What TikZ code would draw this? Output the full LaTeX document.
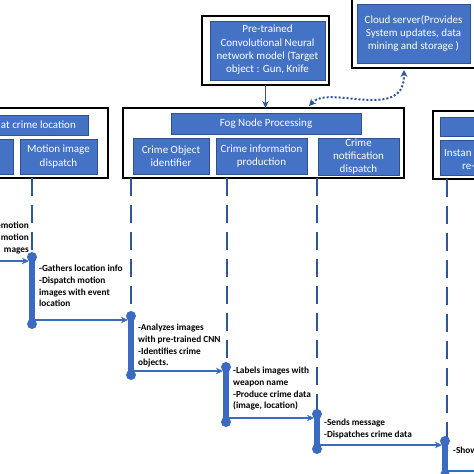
\documentclass[tikz,border=0pt]{standalone}
\usepackage{fontspec}
\setmainfont{Carlito}
\usetikzlibrary{arrows.meta}
\definecolor{boxblue}{HTML}{4472C4}
\definecolor{boxedge}{HTML}{2F528F}
\definecolor{lineblue}{HTML}{2F5597}
\definecolor{barblue}{HTML}{3A6BC0}
\tikzset{
  frame/.style={draw=black, line width=1.3pt, inner sep=0, outer sep=0, anchor=north west},
  bbox/.style={fill=boxblue, draw=boxedge, line width=0.5pt, inner sep=0, outer sep=0, anchor=north west},
  btext/.style={text=white, font=\fontsize{11}{13.4}\selectfont, align=center, inner sep=0},
  note/.style={font=\bfseries\fontsize{9.3}{11.7}\selectfont, align=left, inner sep=0, text=black},
  life/.style={draw=lineblue, line width=2.4pt, dash pattern=on 18pt off 9pt},
  actbar/.style={draw=barblue, line width=6.5pt, line cap=round},
  msg/.style={draw=barblue, line width=1.6pt, -{Stealth[length=7pt,width=6.5pt]}},
  plainmsg/.style={draw=barblue, line width=1.6pt},
  feed/.style={draw=lineblue, line width=1.8pt, -{Stealth[length=7pt,width=6.5pt]}},
  sync/.style={draw=lineblue, line width=2pt, dash pattern=on 2pt off 2pt,
    {Stealth[length=7pt,width=7pt]}-{Stealth[length=7pt,width=7pt]}},
}
\begin{document}
\begin{tikzpicture}[x=1pt,y=-1pt]
\useasboundingbox (0,0) rectangle (474,474);
\fill[white] (0,0) rectangle (474,474);
\clip (0,0) rectangle (474,474);

% ---------- left group (sensor side) ----------
\node[frame, minimum width=118, minimum height=70] (lframe) at (-10,108) {};
\node[bbox, minimum width=118, minimum height=20] (ltitle) at (-30,115) {};
\node[btext, anchor=east] (ltitletxt) at (76,125) {at crime location};
\node[bbox, minimum width=43, minimum height=35] (lsub) at (-30,139) {};
\node[bbox, minimum width=77, minimum height=35] (motion) at (20,139) {};
\node[btext] (motiontxt) at (motion.center) {Motion image\\dispatch};

% ---------- CNN box ----------
\node[frame, minimum width=127, minimum height=69] (cnnframe) at (202,16) {};
\node[bbox, minimum width=115, minimum height=59] (cnn) at (210,21) {};
\node[btext] (cnntxt) at ([yshift=0.5]cnn.center) {Pre-trained\\Convolutional Neural\\network model (Target\\object : Gun, Knife};

% ---------- cloud box ----------
\node[frame, minimum width=140, minimum height=72] (cloudframe) at (352,-4) {};
\node[bbox, minimum width=113, minimum height=59] (cloud) at (357,4) {};
\node[btext] (cloudtxt) at (cloud.center) {Cloud server(Provides\\System updates, data\\mining and storage )};

% ---------- fog group ----------
\node[frame, minimum width=281, minimum height=70] (fogframe) at (123,108) {};
\node[bbox, minimum width=190, minimum height=21] (fogtitle) at (171,113) {};
\node[btext] (fogtxt) at (fogtitle.center) {Fog Node Processing};
\node[bbox, minimum width=76, minimum height=36] (cobj) at (133,138) {};
\node[btext] (cobjtxt) at (cobj.center) {Crime Object\\identifier};
\node[bbox, minimum width=91, minimum height=36] (cinfo) at (216,138) {};
\node[btext] (cinfotxt) at (cinfo.center) {Crime information\\production};
\node[bbox, minimum width=81, minimum height=37] (cnot) at (318,138) {};
\node[btext] (cnottxt) at (cnot.center) {Crime\\notification\\dispatch};

% ---------- right group ----------
\node[frame, minimum width=60, minimum height=68] (rframe) at (433,111) {};
\node[bbox, minimum width=50, minimum height=19] (rtitle) at (440,117) {};
\node[bbox, minimum width=50, minimum height=35] (rsub) at (440,140) {};
\node[btext, anchor=west] (rsubtxt1) at (444,153) {Instan};
\node[btext, anchor=west] (rsubtxt2) at (462,166.5) {re-};

% ---------- top connectors ----------
\draw[feed] (cnnframe.south) -- (cnnframe.south |- fogframe.north);
\coordinate (s1) at (309,106);
\coordinate (s2) at (404,70);
\draw[sync] (s1) .. controls (322,92) and (350,100) .. (372,100)
                 .. controls (396,100) and (404,92) .. (s2);

% ---------- activation bar end points ----------
\coordinate (in0) at (0,261);
\coordinate (b1t) at (32,261);  \coordinate (b1b) at (32,320);
\coordinate (b2t) at (131,320); \coordinate (b2b) at (131,371);
\coordinate (b3t) at (226,371); \coordinate (b3b) at (226,418);
\coordinate (b4t) at (317,418); \coordinate (b4b) at (317,445);
\coordinate (b5t) at (445,445); \coordinate (b5b) at (445,471);
\coordinate (out0) at (480,471);

% ---------- lifelines ----------
\draw[life] (b1t |- lframe.south) -- (b1t);
\draw[life] (b2t |- fogframe.south) -- (b2t);
\draw[life] ([xshift=1]b3t |- fogframe.south) -- ([xshift=1]b3t);
\draw[life] (b4t |- fogframe.south) -- (b4t);
\draw[life] ([xshift=2]b5t |- rframe.south) -- ([xshift=2]b5t);

% ---------- messages ----------
\draw[msg, shorten >=3pt] (in0) -- (b1t);
\draw[msg, shorten >=3pt] (b1b) -- (b2t);
\draw[msg, shorten >=3pt] (b2b) -- (b3t);
\draw[msg, shorten >=3pt] (b3b) -- (b4t);
\draw[msg, shorten >=3pt] (b4b) -- (b5t);
\draw[plainmsg] (b5b) -- (out0);

% ---------- activation bars ----------
\foreach \t/\b in {b1t/b1b, b2t/b2b, b3t/b3b, b4t/b4b, b5t/b5b}{
  \draw[actbar] ([yshift=3]\t) -- ([yshift=-3]\b);
  \fill[barblue] ([yshift=4]\t) circle (5);
  \fill[barblue] ([yshift=-4]\b) circle (5);
}

% ---------- notes ----------
\node[note, anchor=north east, align=right] (n1) at (29,222) {emotion\\motion\\mages};
\node[note, anchor=north west] (n2) at (39,265) {-Gathers location info\\-Dispatch motion\\images with event\\location};
\node[note, anchor=north west] (n3) at (138,324) {-Analyzes images\\with pre-trained CNN\\-Identifies crime\\objects.};
\node[note, anchor=north west] (n4) at (233,367) {-Labels images with\\weapon name\\-Produce crime data\\(image, location)};
\node[note, anchor=north west] (n5) at (324,419) {-Sends message\\-Dispatches crime data};
\node[note, anchor=north west] (n6) at (453,447) {-Show};
\end{tikzpicture}
\end{document}
